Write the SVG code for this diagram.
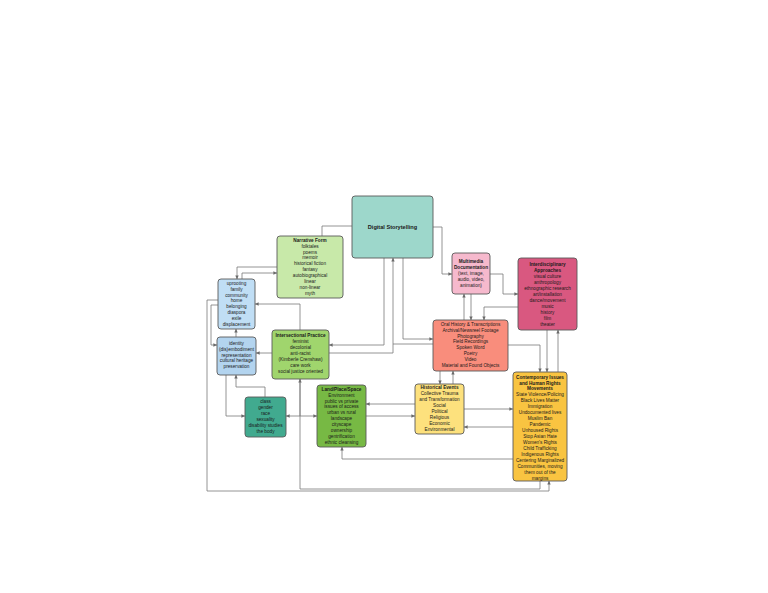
<svg xmlns="http://www.w3.org/2000/svg" width="768" height="593" viewBox="0 0 768 593">
<style>
.n{stroke:#5a5a5a;stroke-width:0.9}
.t{font-family:"Liberation Sans",Arial,sans-serif;font-size:4.7px;fill:#1a1a1a;text-anchor:middle}
.b{font-weight:bold}
.c{fill:none;stroke:#7a7a7a;stroke-width:0.8;stroke-linejoin:round}
.m{marker-end:url(#a)}
</style>
<defs>
<marker id="a" markerWidth="4" markerHeight="4" refX="3.6" refY="2" orient="auto" markerUnits="userSpaceOnUse">
<path d="M0,0.3 L3.8,2 L0,3.7 z" fill="#6a6a6a"/>
</marker>
</defs>
<rect width="768" height="593" fill="#ffffff"/>
<g id="connectors">
<path class="c" d="M352,226 H322 V236"/>
<path class="c m" d="M433,227 H442 V274 H452"/>
<path class="c m" d="M490,274 H503 V294 H518"/>
<path class="c m" d="M518,307 H484 V320"/>
<path class="c m" d="M464,320 V294"/>
<path class="c m" d="M471,294 V320"/>
<path class="c m" d="M547,330 V372"/>
<path class="c m" d="M558,372 V330"/>
<path class="c m" d="M508,345 H540 V372"/>
<path class="c m" d="M384,258 V345 H329"/>
<path class="c m" d="M329,353 H393 V258"/>
<path class="c" d="M433,344 H393"/>
<path class="c m" d="M403,258 V339 H433"/>
<path class="c m" d="M440,371 V384"/>
<path class="c m" d="M453,384 V371"/>
<path class="c m" d="M415,404 H366"/>
<path class="c m" d="M366,416 H415"/>
<path class="c m" d="M464,409 H513"/>
<path class="c m" d="M513,427 H464"/>
<path class="c m" d="M513,459 H342 V447"/>
<path class="c m" d="M540,481 V489 H300 V379"/>
<path class="c m" d="M300,379 V416 H286"/>
<path class="c m" d="M300,416 H317"/>
<path class="c m" d="M226,375 V416 H245"/>
<path class="c m" d="M265,397 V387 H236 V375"/>
<path class="c m" d="M236,337 V329"/>
<path class="c m" d="M272,353 H256"/>
<path class="c m" d="M300,330 V304 H255"/>
<path class="c m" d="M277,267 H237 V279"/>
<path class="c m" d="M242,279 V273 H277"/>
<path class="c m" d="M218,300 H207 V491 H549 V481"/>
<path class="c m" d="M218,305 H211 V345 H217"/>
</g>
<g id="digital-storytelling">
<rect class="n" x="352" y="196" width="81" height="62" rx="3" fill="#9dd7cb"/>
<text class="t b" x="392.5" y="229" style="font-size:5.6px">Digital Storytelling</text>
</g>
<g id="narrative-form">
<rect class="n" x="277" y="236" width="66" height="62" rx="3" fill="#c8e9a9"/>
<text class="t" x="310" y="241.7"><tspan class="b" x="310">Narrative Form</tspan><tspan x="310" dy="5.9">folktales</tspan><tspan x="310" dy="5.9">poems</tspan><tspan x="310" dy="5.9">memoir</tspan><tspan x="310" dy="5.9">historical fiction</tspan><tspan x="310" dy="5.9">fantasy</tspan><tspan x="310" dy="5.9">autobiographical</tspan><tspan x="310" dy="5.9">linear</tspan><tspan x="310" dy="5.9">non-linear</tspan><tspan x="310" dy="5.9">myth</tspan></text>
</g>
<g id="uprooting">
<rect class="n" x="218" y="279" width="37" height="50" rx="3" fill="#c0def5"/>
<text class="t" x="236.5" y="284.6"><tspan x="236.5">uprooting</tspan><tspan x="236.5" dy="5.95">family</tspan><tspan x="236.5" dy="5.95">community</tspan><tspan x="236.5" dy="5.95">home</tspan><tspan x="236.5" dy="5.95">belonging</tspan><tspan x="236.5" dy="5.95">diaspora</tspan><tspan x="236.5" dy="5.95">exile</tspan><tspan x="236.5" dy="5.95">displacement</tspan></text>
</g>
<g id="identity">
<rect class="n" x="217" y="337" width="39" height="38" rx="3" fill="#b3d4ef"/>
<text class="t" x="236.5" y="344.6"><tspan x="236.5">identity</tspan><tspan x="236.5" dy="5.95">(dis)embodiment</tspan><tspan x="236.5" dy="5.95">representation</tspan><tspan x="236.5" dy="5.95">cultural heritage</tspan><tspan x="236.5" dy="5.95">preservation</tspan></text>
</g>
<g id="intersectional-practice">
<rect class="n" x="272" y="330" width="57" height="49" rx="3" fill="#a0d56d"/>
<text class="t" x="300.5" y="337"><tspan class="b" x="300.5">Intersectional Practice</tspan><tspan x="300.5" dy="6">feminist</tspan><tspan x="300.5" dy="6">decolonial</tspan><tspan x="300.5" dy="6">anti-racist</tspan><tspan x="300.5" dy="6">(Kimberle Crenshaw)</tspan><tspan x="300.5" dy="6">care work</tspan><tspan x="300.5" dy="6">social justice oriented</tspan></text>
</g>
<g id="class-gender">
<rect class="n" x="245" y="397" width="41" height="40" rx="3" fill="#41aa8f"/>
<text class="t" x="265.5" y="402.6"><tspan x="265.5">class</tspan><tspan x="265.5" dy="6">gender</tspan><tspan x="265.5" dy="6">race</tspan><tspan x="265.5" dy="6">sexuality</tspan><tspan x="265.5" dy="6">disability studies</tspan><tspan x="265.5" dy="6">the body</tspan></text>
</g>
<g id="land-place-space">
<rect class="n" x="317" y="385" width="49" height="62" rx="3" fill="#77b944"/>
<text class="t" x="341.5" y="390.6"><tspan class="b" x="341.5">Land/Place/Space</tspan><tspan x="341.5" dy="5.95">Environment</tspan><tspan x="341.5" dy="5.95">public vs private</tspan><tspan x="341.5" dy="5.95">issues of access</tspan><tspan x="341.5" dy="5.95">urban vs rural</tspan><tspan x="341.5" dy="5.95">landscape</tspan><tspan x="341.5" dy="5.95">cityscape</tspan><tspan x="341.5" dy="5.95">ownership</tspan><tspan x="341.5" dy="5.95">gentrification</tspan><tspan x="341.5" dy="5.95">ethnic cleansing</tspan></text>
</g>
<g id="multimedia-documentation">
<rect class="n" x="452" y="253" width="38" height="41" rx="3" fill="#f6b9cd"/>
<text class="t" x="471" y="262.6"><tspan class="b" x="471">Multimedia</tspan><tspan class="b" x="471" dy="6.1">Documentation</tspan><tspan x="471" dy="6.1">(text, image,</tspan><tspan x="471" dy="6.1">audio, video,</tspan><tspan x="471" dy="6.1">animation)</tspan></text>
</g>
<g id="interdisciplinary-approaches">
<rect class="n" x="518" y="258" width="59" height="72" rx="3" fill="#d95880"/>
<text class="t" x="547.5" y="265.6"><tspan class="b" x="547.5">Interdisciplinary</tspan><tspan class="b" x="547.5" dy="6">Approaches</tspan><tspan x="547.5" dy="6">visual culture</tspan><tspan x="547.5" dy="6">anthropology</tspan><tspan x="547.5" dy="6">ethnographic research</tspan><tspan x="547.5" dy="6">art/installation</tspan><tspan x="547.5" dy="6">dance/movement</tspan><tspan x="547.5" dy="6">music</tspan><tspan x="547.5" dy="6">history</tspan><tspan x="547.5" dy="6">film</tspan><tspan x="547.5" dy="6">theater</tspan></text>
</g>
<g id="oral-history">
<rect class="n" x="433" y="320" width="75" height="51" rx="3" fill="#f98d7c"/>
<text class="t" x="470.5" y="325.6"><tspan x="470.5">Oral History &amp; Transcriptions</tspan><tspan x="470.5" dy="5.95">Archival/Newsreel Footage</tspan><tspan x="470.5" dy="5.95">Photography</tspan><tspan x="470.5" dy="5.95">Field Recordings</tspan><tspan x="470.5" dy="5.95">Spoken Word</tspan><tspan x="470.5" dy="5.95">Poetry</tspan><tspan x="470.5" dy="5.95">Video</tspan><tspan x="470.5" dy="5.95">Material and Found Objects</tspan></text>
</g>
<g id="historical-events">
<rect class="n" x="415" y="384" width="49" height="50" rx="3" fill="#fde17d"/>
<text class="t" x="439.5" y="389.4"><tspan class="b" x="439.5">Historical Events</tspan><tspan x="439.5" dy="5.95">Collective Trauma</tspan><tspan x="439.5" dy="5.95">and Transformation</tspan><tspan x="439.5" dy="5.95">Social</tspan><tspan x="439.5" dy="5.95">Political</tspan><tspan x="439.5" dy="5.95">Religious</tspan><tspan x="439.5" dy="5.95">Economic</tspan><tspan x="439.5" dy="5.95">Environmental</tspan></text>
</g>
<g id="contemporary-issues">
<rect class="n" x="513" y="372" width="54" height="109" rx="3" fill="#f9c441"/>
<text class="t" x="540" y="378.6"><tspan class="b" x="540">Contemporary Issues</tspan><tspan class="b" x="540" dy="5.94">and Human Rights</tspan><tspan class="b" x="540" dy="5.94">Movements</tspan><tspan x="540" dy="5.94">State Violence/Policing</tspan><tspan x="540" dy="5.94">Black Lives Matter</tspan><tspan x="540" dy="5.94">Immigration</tspan><tspan x="540" dy="5.94">Undocumented lives</tspan><tspan x="540" dy="5.94">Muslim Ban</tspan><tspan x="540" dy="5.94">Pandemic</tspan><tspan x="540" dy="5.94">Unhoused Rights</tspan><tspan x="540" dy="5.94">Stop Asian Hate</tspan><tspan x="540" dy="5.94">Women's Rights</tspan><tspan x="540" dy="5.94">Child Trafficking</tspan><tspan x="540" dy="5.94">Indigenous Rights</tspan><tspan x="540" dy="5.94">Centering Marginalized</tspan><tspan x="540" dy="5.94">Communities, moving</tspan><tspan x="540" dy="5.94">them out of the</tspan><tspan x="540" dy="5.94">margins</tspan></text>
</g>
</svg>
